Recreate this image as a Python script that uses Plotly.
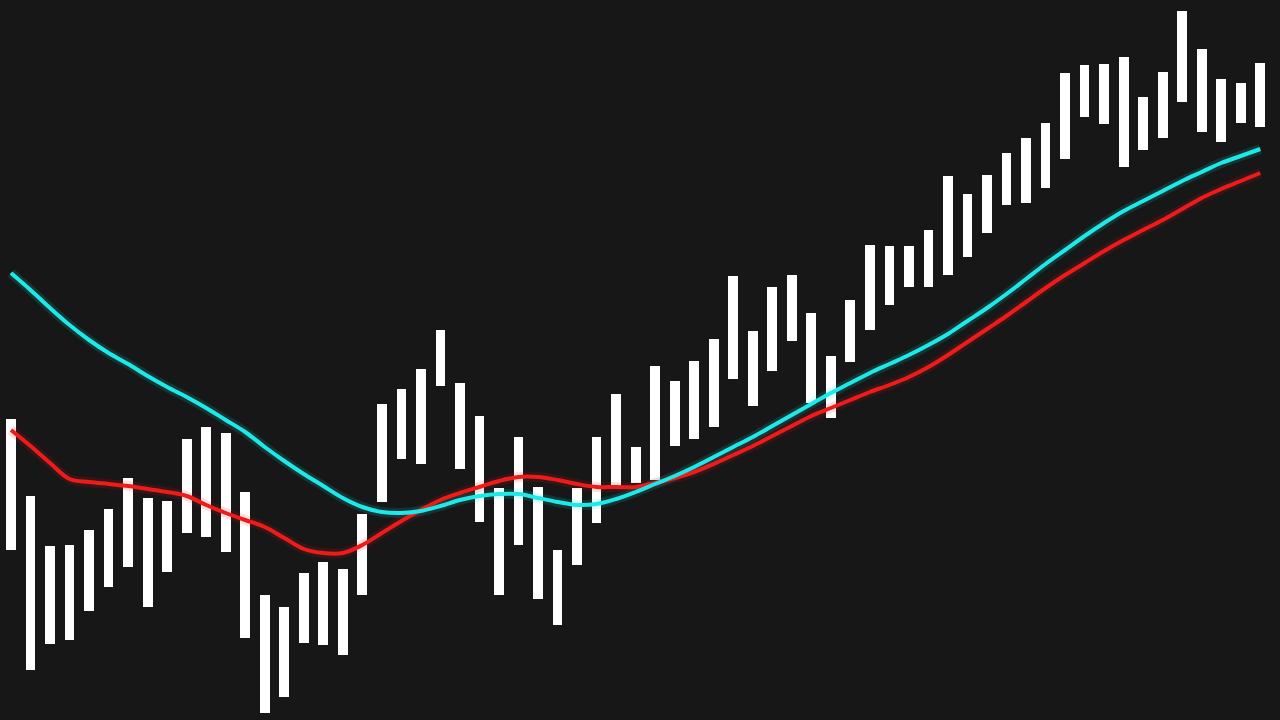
import plotly.graph_objects as go

# Bar index (time steps)
bars = list(range(65))

highs = [130.1, 122.4, 117.4, 117.5, 119.0, 121.1, 124.2, 122.2, 121.9, 128.1,
         129.3, 128.7, 122.8, 112.5, 111.3, 114.7, 115.8, 115.1, 120.6, 131.6,
         133.1, 135.1, 139.0, 133.7, 130.4, 123.2, 128.3, 123.3, 117.0, 123.2,
         128.3, 132.6, 127.3, 135.4, 133.9, 135.9, 138.1, 144.4, 138.9, 143.3,
         144.5, 140.7, 136.4, 142.0, 147.5, 147.4, 147.4, 149.0, 154.4, 152.6,
         154.5, 156.7, 158.2, 159.7, 164.7, 165.5, 165.6, 166.3, 162.3, 164.8,
         170.9, 167.1, 164.1, 163.7, 165.7]

lows = [117.0, 105.0, 107.6, 108.0, 110.9, 113.3, 115.3, 111.3, 114.8, 118.7,
        118.3, 116.8, 108.2, 100.7, 102.3, 107.7, 107.5, 106.5, 112.5, 121.8,
        126.1, 125.6, 133.4, 125.1, 119.8, 112.5, 117.5, 112.1, 109.5, 115.5,
        119.7, 123.4, 123.7, 124.0, 127.4, 128.1, 129.3, 134.1, 131.4, 134.9,
        137.9, 131.7, 130.2, 135.8, 139.0, 141.5, 143.3, 143.3, 144.5, 146.3,
        148.7, 151.5, 151.7, 153.2, 156.1, 160.3, 159.6, 155.3, 157.0, 158.2,
        161.8, 158.8, 157.8, 159.7, 159.3]

ma_fast = [144.7, 143.0, 141.2, 139.5, 138.0, 136.7, 135.6, 134.4, 133.3, 132.3,
           131.2, 130.0, 128.8, 127.3, 125.9, 124.6, 123.4, 122.2, 121.3, 120.8,
           120.7, 120.9, 121.4, 122.0, 122.4, 122.6, 122.6, 122.2, 121.8, 121.5,
           121.6, 122.1, 122.8, 123.6, 124.4, 125.3, 126.3, 127.3, 128.3, 129.4,
           130.5, 131.6, 132.7, 133.7, 134.7, 135.6, 136.5, 137.5, 138.6, 139.9,
           141.2, 142.6, 144.1, 145.6, 147.0, 148.4, 149.7, 150.9, 151.9, 152.9,
           153.9, 154.8, 155.7, 156.4, 157.1]

ma_slow = [129.0, 127.4, 125.7, 124.1, 123.8, 123.6, 123.4, 123.1, 122.8, 122.4,
           121.5, 120.7, 120.0, 119.3, 118.2, 117.1, 116.7, 116.7, 117.5, 118.7,
           119.9, 121.0, 122.0, 122.7, 123.3, 123.9, 124.3, 124.3, 124.0, 123.6,
           123.3, 123.3, 123.3, 123.7, 124.2, 124.8, 125.6, 126.5, 127.4, 128.4,
           129.4, 130.4, 131.2, 132.0, 132.8, 133.5, 134.3, 135.3, 136.5, 137.8,
           139.1, 140.4, 141.8, 143.2, 144.5, 145.7, 146.9, 148.0, 149.0, 150.0,
           151.1, 152.2, 153.1, 153.9, 154.7]

fig = go.Figure()

fig.add_trace(go.Bar(
    x=bars,
    y=[h - l for h, l in zip(highs, lows)],
    base=lows,
    width=0.5,
    marker=dict(color="#ffffff", line=dict(width=0)),
    hoverinfo="skip",
))

# soft glow layers
for color, series in (("rgba(0,240,240,0.13)", ma_fast), ("rgba(240,20,20,0.13)", ma_slow)):
    fig.add_trace(go.Scatter(
        x=bars, y=series, mode="lines",
        line=dict(color=color, width=10, shape="spline", smoothing=1.0),
        hoverinfo="skip",
    ))

fig.add_trace(go.Scatter(
    x=bars, y=ma_slow, mode="lines",
    line=dict(color="#ee1b1b", width=4, shape="spline", smoothing=1.0),
    hoverinfo="skip",
))
fig.add_trace(go.Scatter(
    x=bars, y=ma_fast, mode="lines",
    line=dict(color="#1ee8e8", width=4, shape="spline", smoothing=1.0),
    hoverinfo="skip",
))

fig.update_layout(
    width=1280, height=720,
    margin=dict(l=0, r=0, t=0, b=0),
    paper_bgcolor="#171717",
    plot_bgcolor="#171717",
    showlegend=False,
    bargap=0,
    xaxis=dict(range=[-0.5635, 65.01], visible=False, showgrid=False, zeroline=False),
    yaxis=dict(range=[100, 172], visible=False, showgrid=False, zeroline=False),
)

fig.write_html(
    "out.html",
    config={"displayModeBar": False},
    post_script="document.body.style.margin='0';document.body.style.overflow='hidden';document.body.style.background='#171717';",
)
